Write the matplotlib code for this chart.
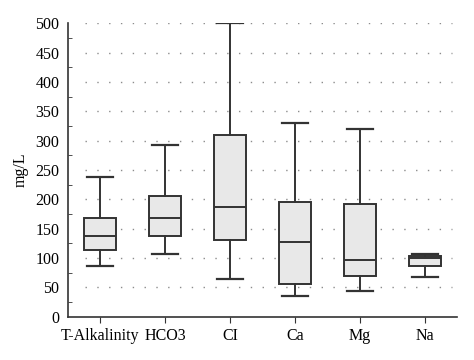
import matplotlib
matplotlib.use("Agg")
import matplotlib.pyplot as plt
from matplotlib.ticker import MultipleLocator

# box statistics (mg/L)
labels = ["T-Alkalinity", "HCO3", "CI", "Ca", "Mg", "Na"]
whislo = [87, 107, 65, 36, 44, 68]
q1 = [113, 138, 131, 56, 69, 86]
med = [138, 169, 187, 127, 96, 101]
q3 = [168, 206, 309, 195, 192, 104]
whishi = [238, 293, 500, 330, 320, 107]

plt.rcParams['font.family'] = ['Liberation Serif', 'DejaVu Serif']

stats = []
for i in range(len(labels)):
    stats.append(dict(label=labels[i], whislo=whislo[i], q1=q1[i], med=med[i],
                      q3=q3[i], whishi=whishi[i], fliers=[]))

fig, ax = plt.subplots(figsize=(4.74, 3.6), dpi=100)
fig.subplots_adjust(left=0.143, right=0.965, top=0.935, bottom=0.12)

edge = '#333333'
ax.bxp(stats, widths=0.49, patch_artist=True, showfliers=False,
       boxprops=dict(facecolor='#e8e8e8', edgecolor=edge, linewidth=1.4),
       medianprops=dict(color=edge, linewidth=1.4),
       whiskerprops=dict(color=edge, linewidth=1.4),
       capprops=dict(color=edge, linewidth=1.6),
       capwidths=0.4)

ax.set_xlim(0.5, 6.5)
ax.set_ylim(0, 500)
ax.yaxis.set_major_locator(MultipleLocator(50))
ax.yaxis.set_minor_locator(MultipleLocator(25))
ax.tick_params(axis='y', which='major', length=0, pad=6, labelsize=11.5)
ax.tick_params(axis='y', which='minor', direction='in', length=3, color=edge)
ax.tick_params(axis='x', which='major', direction='out', length=4, color=edge,
               labelsize=11.5, pad=4)
for t in ax.get_yticks():
    if 0 < t <= 500:
        ax.axhline(t, color='#8c8c8c', linestyle=(0, (1, 7.5)), linewidth=1.0,
                   zorder=0, xmin=0.045, xmax=0.985)

ax.spines['top'].set_visible(False)
ax.spines['right'].set_visible(False)
ax.spines['left'].set_color(edge)
ax.spines['bottom'].set_color(edge)
ax.spines['left'].set_linewidth(1.2)
ax.spines['bottom'].set_linewidth(1.2)
ax.set_ylabel("mg/L", fontsize=11.5, labelpad=5)

fig.savefig("out.png", dpi=100)
